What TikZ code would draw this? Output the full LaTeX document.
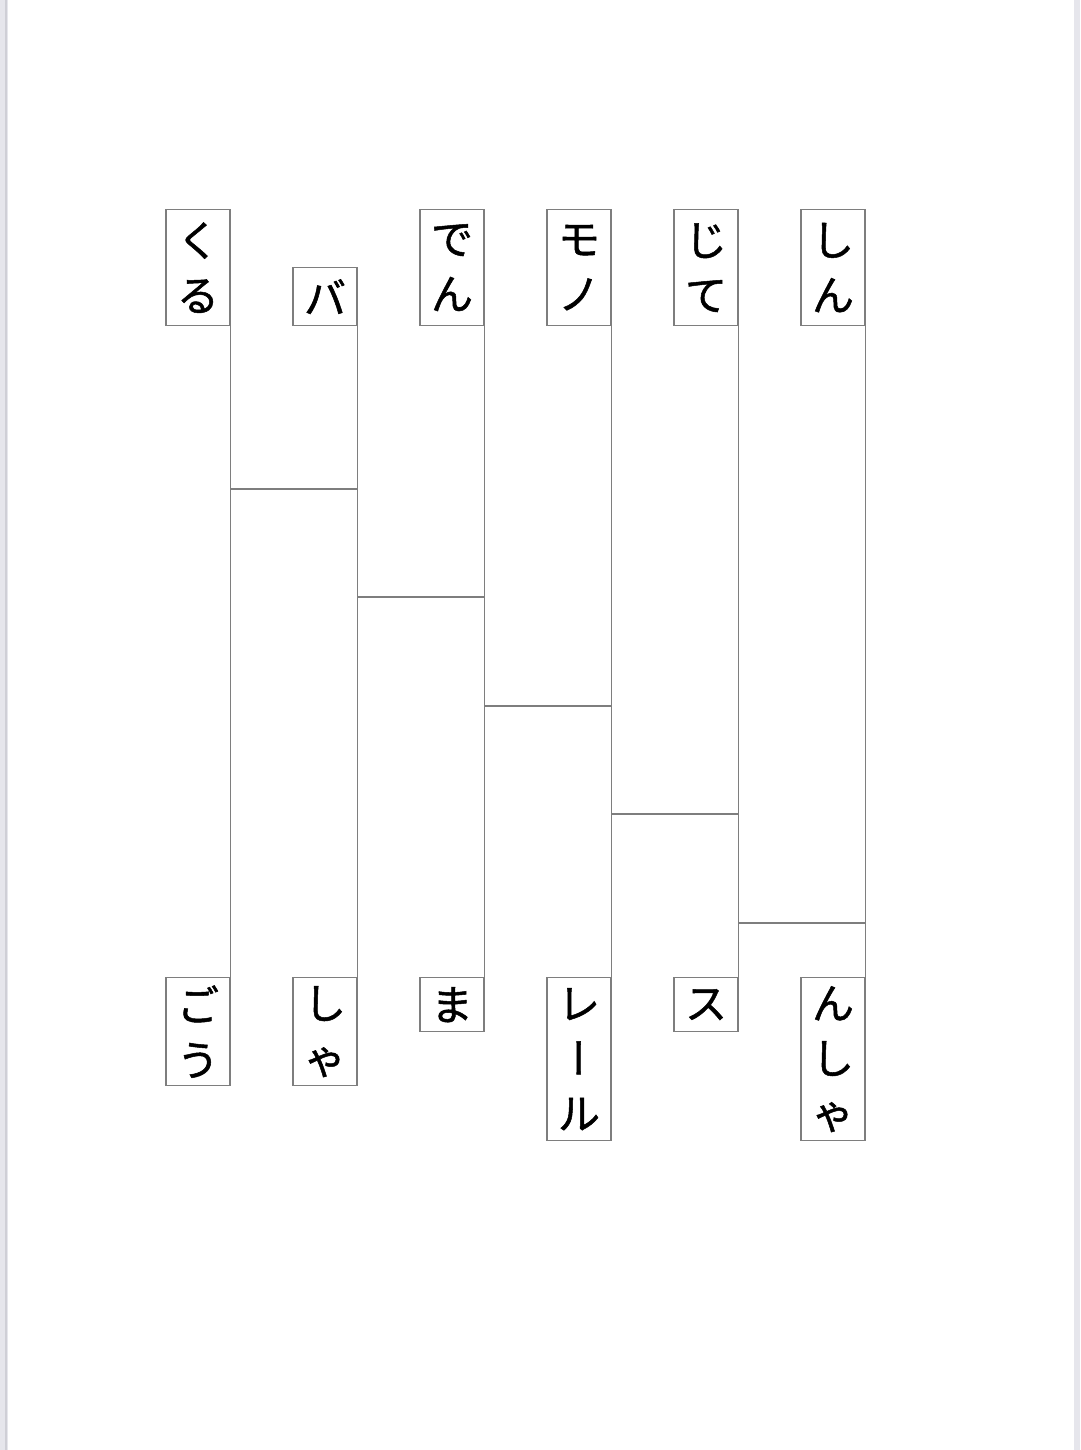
\documentclass[tikz,border=0pt]{standalone}
\usepackage{fontspec}
\newfontfamily\jpfont[BoldFont=Noto Sans CJK JP, BoldFeatures={FakeBold=1.2}]{Noto Sans CJK JP}
\newfontfamily\jpvert[RawFeature=+vert, BoldFont=Noto Sans CJK JP, BoldFeatures={FakeBold=1.2,RawFeature=+vert}]{Noto Sans CJK JP}
\definecolor{edgegray}{HTML}{E6E6EC}
\definecolor{edgedark}{HTML}{CFCFD6}
\definecolor{linegray}{HTML}{7E7E7E}
\begin{document}
\begin{tikzpicture}[x=1pt,y=-1pt,
  box/.style={draw=linegray, line width=1.3pt, anchor=north, minimum width=64pt,
    text width=60pt, inner sep=0pt, align=center,
    font=\jpfont\bfseries\fontsize{42}{55}\selectfont},
  rail/.style={draw=linegray, line width=1.3pt}]
\useasboundingbox (0,0) rectangle (1080,1450);
\fill[white] (0,0) rectangle (1080,1450);
\fill[edgegray] (0,0) rectangle (8,1450);
\fill[edgedark] (5,0) rectangle (7,1450);
\fill[edgegray] (1074,0) rectangle (1080,1450);
% top boxes
\node[box, minimum height=116pt] (t1) at (198,209) {く\\る};
\node[box, minimum height=58pt]  (t2) at (325,267) {バ};
\node[box, minimum height=116pt] (t3) at (452,209) {で\\ん};
\node[box, minimum height=116pt] (t4) at (579,209) {モ\\ノ};
\node[box, minimum height=116pt] (t5) at (706,209) {じ\\て};
\node[box, minimum height=116pt] (t6) at (833,209) {し\\ん};
% bottom boxes
\node[box, minimum height=108pt] (b1) at (198,977) {ご\\う};
\node[box, minimum height=108pt] (b2) at (325,977) {し\\ゃ};
\node[box, minimum height=54pt]  (b3) at (452,977) {ま};
\node[box, minimum height=163pt] (b4) at (579,977) {レ\\{\jpvert\bfseries ー}\\ル};
\node[box, minimum height=54pt]  (b5) at (706,977) {ス};
\node[box, minimum height=163pt] (b6) at (833,977) {ん\\し\\ゃ};
% vertical rails
\foreach \i in {1,...,6}{\draw[rail] (t\i.south east) -- (b\i.north east);}
% rung heights
\coordinate (y1) at (0,489);
\coordinate (y2) at (0,597);
\coordinate (y3) at (0,706);
\coordinate (y4) at (0,814);
\coordinate (y5) at (0,923);
\draw[rail] (t1.south east |- y1) -- (t2.south east |- y1);
\draw[rail] (t2.south east |- y2) -- (t3.south east |- y2);
\draw[rail] (t3.south east |- y3) -- (t4.south east |- y3);
\draw[rail] (t4.south east |- y4) -- (t5.south east |- y4);
\draw[rail] (t5.south east |- y5) -- (t6.south east |- y5);
\end{tikzpicture}
\end{document}
